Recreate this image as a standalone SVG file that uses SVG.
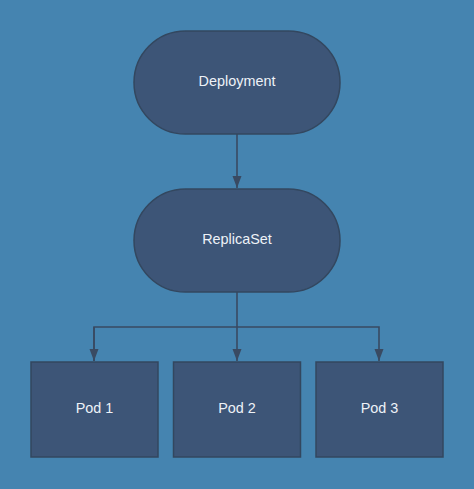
<svg xmlns="http://www.w3.org/2000/svg" width="474" height="489" viewBox="0 0 474 489">
<style>
.node{fill:#3d5577;stroke:#33475f;stroke-width:1.5}
.lbl{font-family:"Liberation Sans",Arial,sans-serif;font-size:14.4px;fill:#eef2f7;text-anchor:middle;dominant-baseline:central}
.edge{fill:none;stroke:#394a62;stroke-width:1.6}
</style>
<defs>
<marker id="ah" markerWidth="12" markerHeight="10" refX="12" refY="5" orient="auto" markerUnits="userSpaceOnUse" viewBox="0 0 12 10">
<path d="M0,0.5 L12,5 L0,9.5 Z" fill="#394a62"/>
</marker>
</defs>
<rect width="474" height="489" fill="#4584b0"/>
<g id="connectors">
<path class="edge" d="M237,134 V188" marker-end="url(#ah)"/>
<path class="edge" d="M237,292 V361" marker-end="url(#ah)"/>
<path class="edge" d="M94,361 V327 H379 V361" marker-end="url(#ah)"/>
<path class="edge" d="M94,327 V361" marker-end="url(#ah)"/>
</g>
<g id="deployment">
<rect class="node" x="134" y="31" width="206" height="103" rx="51.5"/>
<text class="lbl" x="237" y="81">Deployment</text>
</g>
<g id="replicaset">
<rect class="node" x="134" y="189" width="206" height="103" rx="51.5"/>
<text class="lbl" x="237" y="239">ReplicaSet</text>
</g>
<g id="pod1">
<rect class="node" x="31" y="362" width="127" height="95"/>
<text class="lbl" x="94.5" y="408">Pod 1</text>
</g>
<g id="pod2">
<rect class="node" x="173.5" y="362" width="127" height="95"/>
<text class="lbl" x="237" y="408">Pod 2</text>
</g>
<g id="pod3">
<rect class="node" x="316" y="362" width="127" height="95"/>
<text class="lbl" x="379.5" y="408">Pod 3</text>
</g>
</svg>
